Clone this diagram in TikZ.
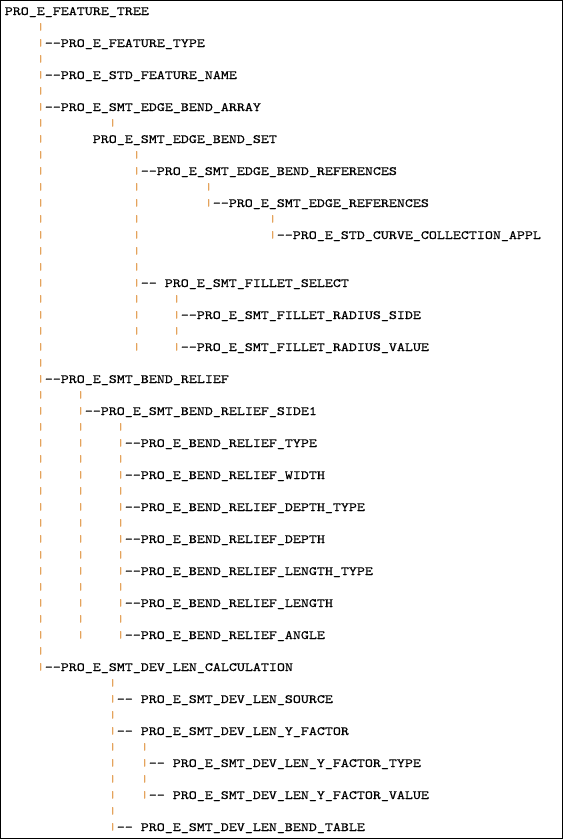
\documentclass[tikz,border=0pt]{standalone}
\usepackage{fontspec}
\newfontfamily\codefont{lmmono10-regular.otf}[FakeStretch=1.21,FakeBold=0.6]
\newfontfamily\barfont{lmmono10-regular.otf}[FakeBold=1.6]
\definecolor{barorange}{RGB}{220,136,44}
\tikzset{
  txt/.style={anchor=base west, inner sep=0pt, outer sep=0pt, font=\codefont\fontsize{9.45pt}{12pt}\selectfont, text=black},
  vbar/.style={anchor=base, inner sep=0pt, outer sep=0pt, font=\barfont\fontsize{7.2pt}{8pt}\selectfont, text=barorange, yshift=0.9pt},
  frame/.style={draw=black, line width=0.75pt}
}
% row, column, text
\newcommand\tl[3]{\node[txt, name=t#1c#2] at ({3.6pt+6pt*#2},{-11.25pt-12pt*#1}) {#3};}
\newcommand\vb[2]{\node[vbar, name=b#1c#2] at ({6.6pt+6pt*#2},{-11.25pt-12pt*#1}) {|};}
\begin{document}
\begin{tikzpicture}
\useasboundingbox (0,0) rectangle (423pt,-630pt);
\draw[frame] (0.375pt,-0.375pt) rectangle (421.9pt,-628.9pt);
% root
\tl{0}{0}{PRO\_E\_FEATURE\_TREE}
\foreach \r in {1,...,41} {\vb{\r}{4}}
\tl{2}{5}{-{}-PRO\_E\_FEATURE\_TYPE}
\tl{4}{5}{-{}-PRO\_E\_STD\_FEATURE\_NAME}
\tl{6}{5}{-{}-PRO\_E\_SMT\_EDGE\_BEND\_ARRAY}
\vb{7}{13}
\tl{8}{11}{PRO\_E\_SMT\_EDGE\_BEND\_SET}
\foreach \r in {9,...,21} {\vb{\r}{16}}
\tl{10}{17}{-{}-PRO\_E\_SMT\_EDGE\_BEND\_REFERENCES}
\vb{11}{25}
\vb{12}{25}
\tl{12}{26}{-{}-PRO\_E\_SMT\_EDGE\_REFERENCES}
\vb{13}{33}
\vb{14}{33}
\tl{14}{34}{-{}-PRO\_E\_STD\_CURVE\_COLLECTION\_APPL}
\tl{17}{17}{-{}-\ PRO\_E\_SMT\_FILLET\_SELECT}
\foreach \r in {18,...,21} {\vb{\r}{21}}
\tl{19}{22}{-{}-PRO\_E\_SMT\_FILLET\_RADIUS\_SIDE}
\tl{21}{22}{-{}-PRO\_E\_SMT\_FILLET\_RADIUS\_VALUE}
% bend relief
\tl{23}{5}{-{}-PRO\_E\_SMT\_BEND\_RELIEF}
\foreach \r in {24,...,39} {\vb{\r}{9}}
\tl{25}{10}{-{}-PRO\_E\_SMT\_BEND\_RELIEF\_SIDE1}
\foreach \r in {26,...,39} {\vb{\r}{14}}
\tl{27}{15}{-{}-PRO\_E\_BEND\_RELIEF\_TYPE}
\tl{29}{15}{-{}-PRO\_E\_BEND\_RELIEF\_WIDTH}
\tl{31}{15}{-{}-PRO\_E\_BEND\_RELIEF\_DEPTH\_TYPE}
\tl{33}{15}{-{}-PRO\_E\_BEND\_RELIEF\_DEPTH}
\tl{35}{15}{-{}-PRO\_E\_BEND\_RELIEF\_LENGTH\_TYPE}
\tl{37}{15}{-{}-PRO\_E\_BEND\_RELIEF\_LENGTH}
\tl{39}{15}{-{}-PRO\_E\_BEND\_RELIEF\_ANGLE}
% dev len
\tl{41}{5}{-{}-PRO\_E\_SMT\_DEV\_LEN\_CALCULATION}
\foreach \r in {42,...,51} {\vb{\r}{13}}
\tl{43}{14}{-{}-\ PRO\_E\_SMT\_DEV\_LEN\_SOURCE}
\tl{45}{14}{-{}-\ PRO\_E\_SMT\_DEV\_LEN\_Y\_FACTOR}
\foreach \r in {46,...,49} {\vb{\r}{17}}
\tl{47}{18}{-{}-\ PRO\_E\_SMT\_DEV\_LEN\_Y\_FACTOR\_TYPE}
\tl{49}{18}{-{}-\ PRO\_E\_SMT\_DEV\_LEN\_Y\_FACTOR\_VALUE}
\tl{51}{14}{-{}-\ PRO\_E\_SMT\_DEV\_LEN\_BEND\_TABLE}
\end{tikzpicture}
\end{document}
